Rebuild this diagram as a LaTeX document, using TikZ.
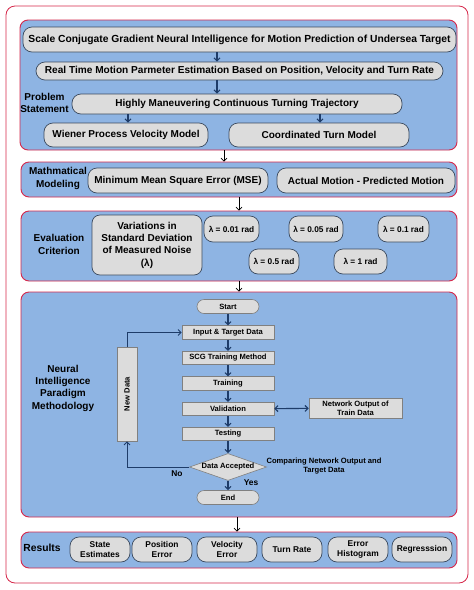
\documentclass[tikz,border=0pt]{standalone}
\usepackage{fontspec}
\setmainfont{Liberation Sans}
\usetikzlibrary{shapes.geometric,arrows.meta}
\definecolor{panelBlue}{RGB}{142,180,227}
\definecolor{panelRed}{RGB}{214,40,75}
\definecolor{boxGrey}{RGB}{220,220,220}
\definecolor{boxLine}{RGB}{60,75,95}
\definecolor{flowNavy}{RGB}{30,60,105}

\begin{document}
\begin{tikzpicture}[x=1pt,y=-1pt,
        font=\bfseries\fontsize{10}{12.3}\selectfont,
        outerFrame/.style = {draw=panelRed,line width=0.8pt,fill=white,rounded corners=9pt,inner sep=0pt},
        panelNode/.style = {draw=panelRed,line width=0.9pt,fill=panelBlue,rounded corners=8pt,inner sep=0pt},
        greyNode/.style = {draw=boxLine,line width=0.7pt,fill=boxGrey,rounded corners=9pt,inner sep=0pt},
        lamNode/.style = {greyNode,font=\bfseries\fontsize{8.3}{10}\selectfont},
        resNode/.style = {greyNode,minimum width=60pt,minimum height=25pt,align=center,font=\bfseries\fontsize{8.4}{10}\selectfont},
        panelLabel/.style = {align=center,text=black},
        flowNode/.style = {draw=gray,line width=0.6pt,fill=boxGrey,inner sep=0pt,minimum width=92pt,minimum height=13.5pt,font=\bfseries\fontsize{7.6}{9}\selectfont},
        termNode/.style = {flowNode,rounded corners=7pt,minimum width=62pt,minimum height=14pt},
        decNode/.style = {flowNode,shape=diamond,aspect=2.8,minimum width=77pt,minimum height=27pt},
        flowText/.style = {font=\bfseries\fontsize{7.6}{9.5}\selectfont,align=center},
        stepArrow/.style = {draw=flowNavy,line width=1.1pt,-{Straight Barb[length=3pt,width=6pt]}},
        panelArrow/.style = {draw=black,line width=0.6pt,-{Straight Barb[length=3pt,width=6pt]}}
        ]
        \useasboundingbox (0,0) rectangle (474,590);
        \node[outerFrame,minimum width=462pt,minimum height=577pt] (frame) at (237,294.5) {};

        \node[panelNode,minimum width=437pt,minimum height=130pt] (probPanel) at (238.5,85) {};
        \node[panelNode,minimum width=436pt,minimum height=35pt] (mathPanel) at (239,179.5) {};
        \node[panelNode,minimum width=436pt,minimum height=70pt] (evalPanel) at (239,246) {};
        \node[panelNode,minimum width=436pt,minimum height=225pt] (neuralPanel) at (239,404.5) {};
        \node[panelNode,minimum width=436pt,minimum height=36pt] (resPanel) at (239,550) {};

        \node[greyNode,minimum width=433pt,minimum height=25pt,font=\bfseries\fontsize{10.3}{12}\selectfont] (title) at (239.5,39.5) {Scale Conjugate Gradient Neural Intelligence for Motion Prediction of Undersea Target};
        \node[greyNode,minimum width=407pt,minimum height=18pt,font=\bfseries\fontsize{10.1}{12}\selectfont] (realTime) at (239.5,71) {Real Time Motion Parmeter Estimation Based on Position, Velocity and Turn Rate};
        \node[greyNode,minimum width=330pt,minimum height=20pt] (highly) at (237,104) {Highly Maneuvering Continuous Turning Trajectory};
        \node[greyNode,minimum width=164pt,minimum height=24pt] (wiener) at (126,135) {Wiener Process Velocity Model};
        \node[greyNode,minimum width=180pt,minimum height=24pt] (coordTurn) at (319,135) {Coordinated Turn Model};
        \node[panelLabel] (probLabel) at (44.5,103) {Problem\\Statement};

        \node[panelLabel] (mathLabel) at (58,178.5) {Mathmatical\\Modeling};
        \node[greyNode,minimum width=180pt,minimum height=25pt] (mse) at (178,180.5) {Minimum Mean Square Error (MSE)};
        \node[greyNode,minimum width=178pt,minimum height=25pt] (actual) at (366,180.5) {Actual Motion - Predicted Motion};

        \node[panelLabel] (evalLabel) at (59,244.5) {Evaluation\\Criterion};
        \node[greyNode,rounded corners=8pt,minimum width=110pt,minimum height=60pt,align=center] (variations) at (147,245) {Variations in\\Standard Deviation\\of Measured Noise\\(λ)};
        \node[lamNode,minimum width=55pt,minimum height=26pt] (lamA) at (231.5,229) {λ = 0.01 rad};
        \node[lamNode,minimum width=54pt,minimum height=26pt] (lamB) at (316,229) {λ = 0.05 rad};
        \node[lamNode,minimum width=51pt,minimum height=26pt] (lamC) at (403.5,229) {λ = 0.1 rad};
        \node[lamNode,minimum width=50pt,minimum height=25pt] (lamD) at (274,261.5) {λ = 0.5 rad};
        \node[lamNode,minimum width=53pt,minimum height=25pt] (lamE) at (360.5,261.5) {λ = 1 rad};

        \node[panelLabel] (neuralLabel) at (63,388) {Neural\\Intelligence\\Paradigm\\Methodology};
        \node[termNode] (start) at (228,306.5) {Start};
        \node[flowNode] (input) at (228,332.5) {Input \& Target Data};
        \node[flowNode] (scg) at (228,358) {SCG Training Method};
        \node[flowNode] (training) at (228,383.5) {Training};
        \node[flowNode] (validation) at (228,409) {Validation};
        \node[flowNode] (testing) at (228,434) {Testing};
        \node[decNode] (accepted) at (228,467) {Data Accepted};
        \node[termNode] (end) at (228,497.5) {End};
        \node[flowNode,minimum width=93pt,minimum height=20pt,align=center] (netOut) at (355.5,408) {Network Output of\\Train Data};
        \node[flowNode,minimum width=20pt,minimum height=94pt] (newData) at (127,394) {};
        \node[flowText,rotate=90] (newDataText) at (newData) {New Data};
        \node[flowText] (compare) at (324,466) {Comparing Network Output and\\Target Data};
        \node[flowText,font=\bfseries\fontsize{8.4}{10}\selectfont] (no) at (177,474) {No};
        \node[flowText,font=\bfseries\fontsize{8.4}{10}\selectfont] (yes) at (251,483) {Yes};

        \node[panelLabel,font=\bfseries\fontsize{10.3}{12}\selectfont] (resLabel) at (42,548) {Results};
        \node[resNode] (state) at (100,549.5) {State\\Estimates};
        \node[resNode] (position) at (162,549.5) {Position\\Error};
        \node[resNode] (velocity) at (227,549.5) {Velocity\\Error};
        \node[resNode] (turnRate) at (292,549.5) {Turn Rate};
        \node[resNode] (histogram) at (358,549.5) {Error\\Histogram};
        \node[resNode] (regression) at (422,549.5) {Regresssion};

        \draw[stepArrow] ([xshift=-22.5pt]title.south) -- ([xshift=-22.5pt]realTime.north);
        \draw[stepArrow] ([xshift=-22.5pt]realTime.south) -- ([xshift=-22.5pt]realTime.south |- highly.north);
        \draw[stepArrow] ([xshift=2pt]highly.south -| wiener.north) -- ([xshift=2pt]wiener.north);
        \draw[stepArrow] ([xshift=1pt]highly.south -| coordTurn.north) -- ([xshift=1pt]coordTurn.north);

        \draw[panelArrow] ([xshift=-14.5pt]probPanel.south) -- ([xshift=-14.5pt]probPanel.south |- mathPanel.north);
        \draw[panelArrow] (mathPanel.south) -- (evalPanel.north);
        \draw[panelArrow] (evalPanel.south) -- (neuralPanel.north);
        \draw[panelArrow] ([xshift=-2pt]neuralPanel.south) -- ([xshift=-2pt]resPanel.north);

        \draw[stepArrow] (start) -- (input);
        \draw[stepArrow] (input) -- (scg);
        \draw[stepArrow] (scg) -- (training);
        \draw[stepArrow] (training) -- (validation);
        \draw[stepArrow] (validation) -- (testing);
        \draw[stepArrow] (testing) -- (accepted);
        \draw[stepArrow] (accepted) -- (end);
        \draw[stepArrow,{Straight Barb[length=3pt,width=6pt]}-{Straight Barb[length=3pt,width=6pt]}] (validation) -- (netOut);
        \draw[stepArrow,line width=0.9pt] (accepted.west) -| (newData.south);
        \draw[stepArrow,line width=0.9pt] (newData.north) |- (input.west);
    \end{tikzpicture}
\end{document}
